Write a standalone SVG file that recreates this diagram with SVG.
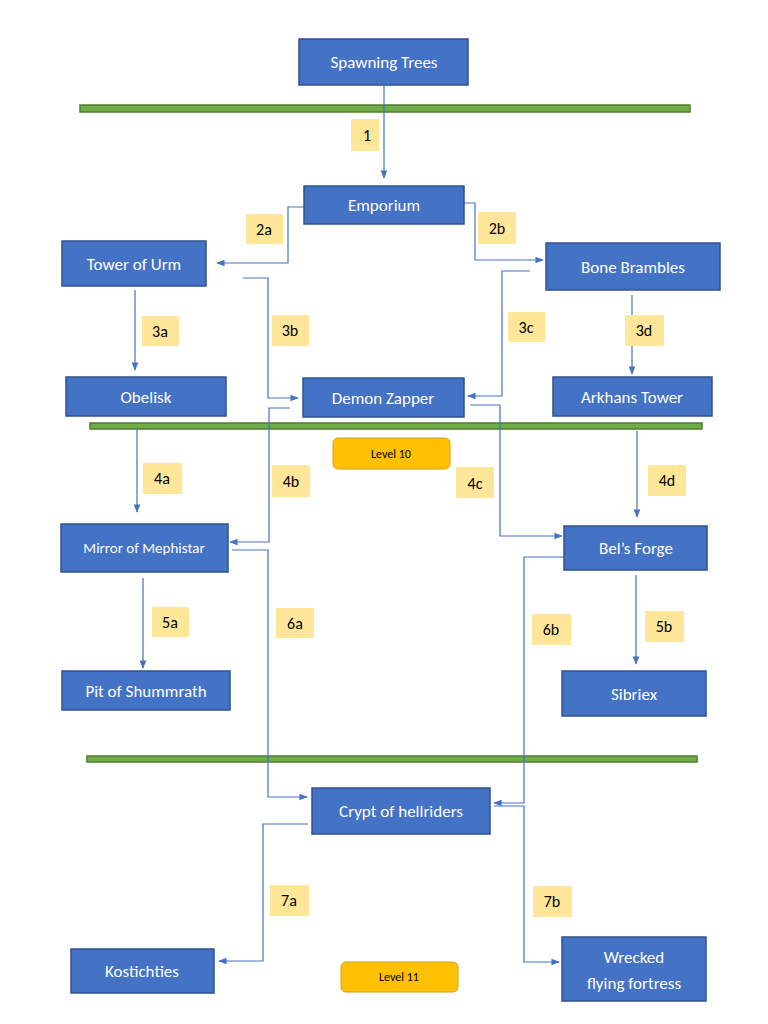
<svg xmlns="http://www.w3.org/2000/svg" width="768" height="1024" viewBox="0 0 768 1024">
<style>
.n{fill:#4472C4;stroke:#2F528F;stroke-width:1.5}
.t{fill:#fff;font-family:Carlito,"Liberation Sans",sans-serif;font-size:17px;text-anchor:middle;dominant-baseline:central}
.l{fill:#FFE699}
.lt{fill:#000;font-family:Carlito,"Liberation Sans",sans-serif;font-size:16px;text-anchor:middle;dominant-baseline:central}
.bar{fill:#70AD47;stroke:#507E32;stroke-width:1.5}
.c{fill:none;stroke:#4472C4;stroke-width:1.2;marker-end:url(#a)}
.lv{fill:#FFC000;stroke:#D4A017;stroke-width:1}
.lvt{fill:#000;font-family:Carlito,"Liberation Sans",sans-serif;font-size:12px;text-anchor:middle;dominant-baseline:central}
</style>
<defs><marker id="a" viewBox="0 0 10 10" refX="9" refY="5" markerWidth="7" markerHeight="7" orient="auto"><path d="M0,1 L10,5 L0,9 z" fill="#4472C4"/></marker></defs>
<rect width="768" height="1024" fill="#fff"/>
<g id="bars">
<rect class="bar" x="80" y="105" width="610" height="7"/>
<rect class="bar" x="90" y="423" width="612" height="6"/>
<rect class="bar" x="87" y="756" width="610" height="6"/>
</g>
<g id="connectors">
<path class="c" d="M384,85 V178"/>
<path class="c" d="M304,207 H288 V263 H217"/>
<path class="c" d="M464,203 H475 V260 H543"/>
<path class="c" d="M135,290 V370"/>
<path class="c" d="M243,278 H268 V398 H298"/>
<path class="c" d="M530,271 H502 V396 H468"/>
<path class="c" d="M632,295 V374"/>
<path class="c" d="M137,428 V512"/>
<path class="c" d="M290,408 H269 V542 H230"/>
<path class="c" d="M470,405 H500 V536 H562"/>
<path class="c" d="M637,431 V517"/>
<path class="c" d="M232,550 H268 V797 H307"/>
<path class="c" d="M564,557 H524 V803 H494"/>
<path class="c" d="M143,578 V668"/>
<path class="c" d="M636,575 V664"/>
<path class="c" d="M308,824 H263 V961 H219"/>
<path class="c" d="M494,806 H524 V962 H559"/>
</g>
<g id="labels">
<rect class="l" x="351" y="119" width="28" height="32"/><text class="lt" x="367" y="135">1</text>
<rect class="l" x="246" y="214" width="37" height="30"/><text class="lt" x="264" y="229">2a</text>
<rect class="l" x="478" y="212" width="38" height="32"/><text class="lt" x="497" y="228">2b</text>
<rect class="l" x="142" y="316" width="37" height="30"/><text class="lt" x="160" y="331">3a</text>
<rect class="l" x="272" y="315" width="37" height="31"/><text class="lt" x="290" y="330">3b</text>
<rect class="l" x="508" y="312" width="37" height="30"/><text class="lt" x="526" y="327">3c</text>
<rect class="l" x="625" y="315" width="39" height="31"/><text class="lt" x="644" y="330">3d</text>
<rect class="l" x="143" y="463" width="39" height="31"/><text class="lt" x="162" y="478">4a</text>
<rect class="l" x="272" y="465" width="38" height="32"/><text class="lt" x="291" y="481">4b</text>
<rect class="l" x="456" y="467" width="38" height="31"/><text class="lt" x="475" y="483">4c</text>
<rect class="l" x="648" y="465" width="38" height="31"/><text class="lt" x="667" y="480">4d</text>
<rect class="l" x="152" y="607" width="37" height="30"/><text class="lt" x="170" y="622">5a</text>
<rect class="l" x="645" y="611" width="39" height="31"/><text class="lt" x="664" y="626">5b</text>
<rect class="l" x="276" y="608" width="38" height="30"/><text class="lt" x="295" y="623">6a</text>
<rect class="l" x="532" y="614" width="39" height="31"/><text class="lt" x="551" y="629">6b</text>
<rect class="l" x="270" y="885" width="39" height="31"/><text class="lt" x="289" y="900">7a</text>
<rect class="l" x="533" y="886" width="39" height="31"/><text class="lt" x="552" y="901">7b</text>
</g>
<g id="level10"><rect class="lv" x="333" y="438" width="117" height="31" rx="5"/><text class="lvt" x="391" y="454">Level 10</text></g>
<g id="level11"><rect class="lv" x="341" y="962" width="117" height="30" rx="5"/><text class="lvt" x="399" y="977">Level 11</text></g>
<g id="spawning"><rect class="n" x="299" y="39" width="169" height="46"/><text class="t" x="384" y="62">Spawning Trees</text></g>
<g id="emporium"><rect class="n" x="304" y="186" width="160" height="38"/><text class="t" x="384" y="205">Emporium</text></g>
<g id="urm"><rect class="n" x="62" y="241" width="144" height="45"/><text class="t" x="134" y="264">Tower of Urm</text></g>
<g id="bone"><rect class="n" x="546" y="243" width="174" height="47"/><text class="t" x="633" y="267">Bone Brambles</text></g>
<g id="obelisk"><rect class="n" x="66" y="377" width="160" height="39"/><text class="t" x="146" y="397">Obelisk</text></g>
<g id="zapper"><rect class="n" x="303" y="378" width="161" height="39"/><text class="t" x="383" y="398">Demon Zapper</text></g>
<g id="arkhans"><rect class="n" x="553" y="377" width="159" height="39"/><text class="t" x="632" y="397">Arkhans Tower</text></g>
<g id="mirror"><rect class="n" x="61" y="524" width="167" height="48"/><text class="t" x="144" y="548" style="font-size:15px">Mirror of Mephistar</text></g>
<g id="bels"><rect class="n" x="564" y="526" width="143" height="44"/><text class="t" x="636" y="548">Bel’s Forge</text></g>
<g id="pit"><rect class="n" x="62" y="671" width="168" height="39"/><text class="t" x="146" y="691">Pit of Shummrath</text></g>
<g id="sibriex"><rect class="n" x="562" y="671" width="144" height="45"/><text class="t" x="634" y="694">Sibriex</text></g>
<g id="crypt"><rect class="n" x="312" y="788" width="178" height="46"/><text class="t" x="401" y="811">Crypt of hellriders</text></g>
<g id="kost"><rect class="n" x="71" y="949" width="143" height="44"/><text class="t" x="142" y="971">Kostichties</text></g>
<g id="wrecked"><rect class="n" x="562" y="937" width="144" height="64"/><text class="t" x="634" y="957">Wrecked</text><text class="t" x="634" y="983">flying fortress</text></g>
</svg>
